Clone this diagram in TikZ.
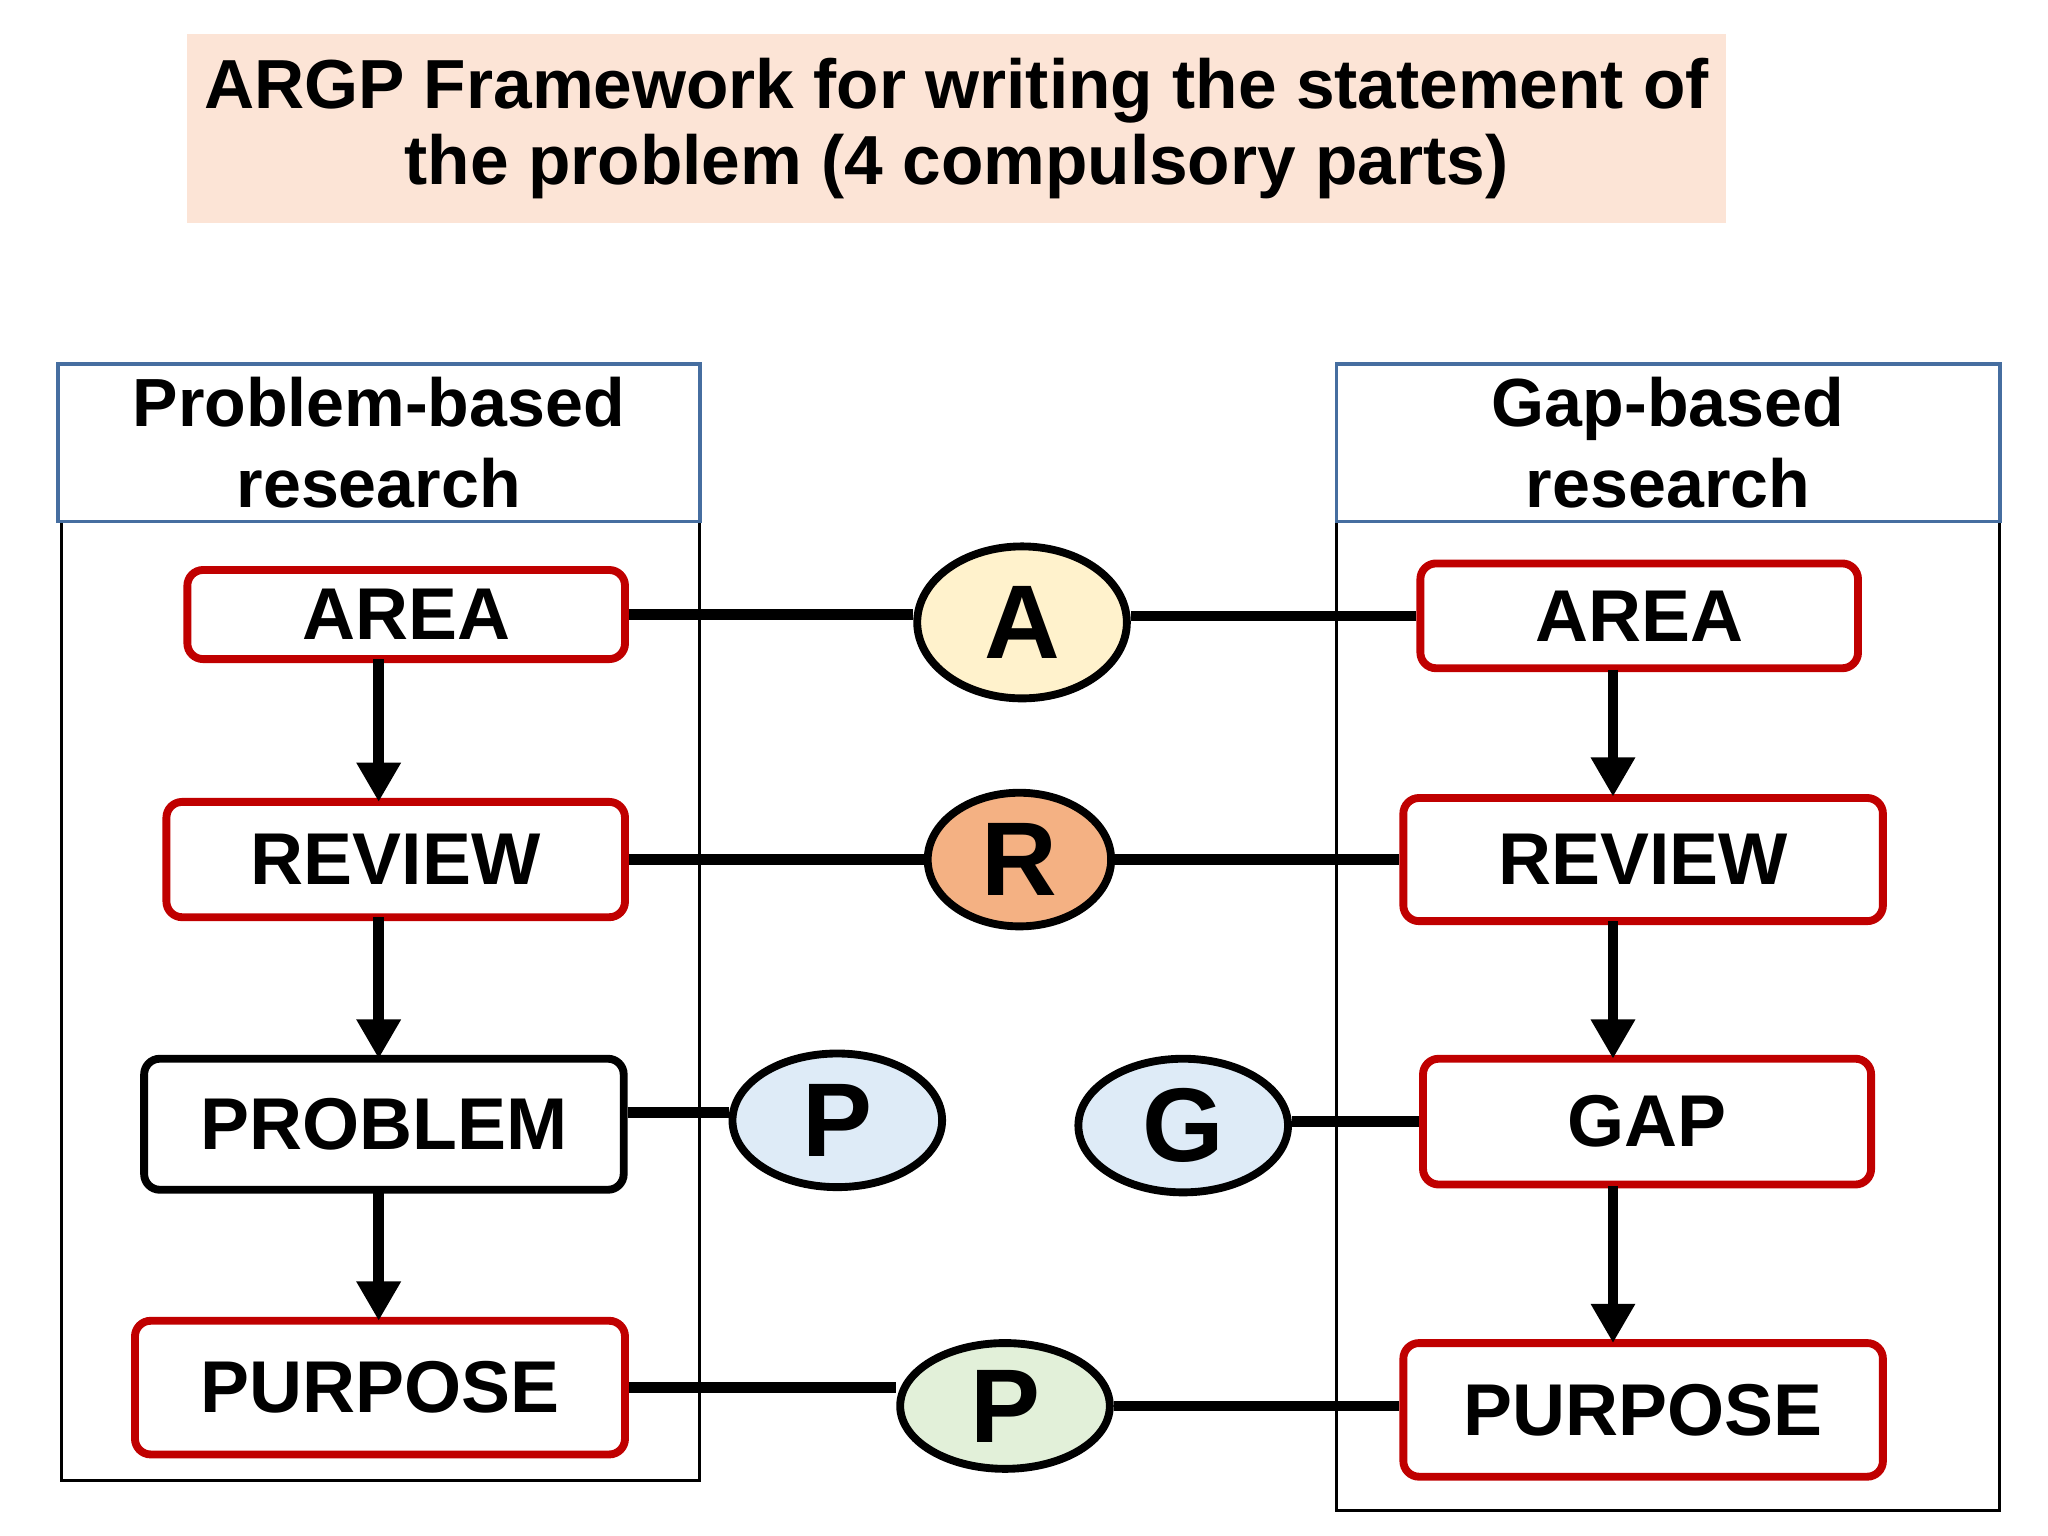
\documentclass[tikz,border=0pt]{standalone}
\usepackage{fontspec}
\setmainfont{Liberation Sans}
\usetikzlibrary{arrows.meta,shapes.geometric}
\definecolor{peach}{RGB}{252,228,214}
\definecolor{hdrblue}{RGB}{70,110,160}
\definecolor{dred}{RGB}{192,0,0}
\definecolor{cA}{RGB}{255,242,204}
\definecolor{cR}{RGB}{244,177,131}
\definecolor{cB}{RGB}{222,235,247}
\definecolor{cG}{RGB}{226,240,217}
\tikzset{
  stepbox/.style={draw=dred,line width=3pt,rounded corners=6pt,fill=white,font=\bfseries\fontsize{28}{32}\selectfont,inner sep=0pt},
  blackbox/.style={stepbox,draw=black},
  letter/.style={ellipse,draw=black,line width=3pt,inner sep=0pt,font=\bfseries\fontsize{40}{42}\selectfont},
  link/.style={line width=4pt},
  flow/.style={line width=4pt,-{Triangle[width=16pt,length=15pt]}},
  hdr/.style={draw=hdrblue,line width=1.5pt,fill=white,align=center,font=\bfseries\fontsize{26}{31}\selectfont,inner sep=0pt},
  outer/.style={draw=black,line width=1.2pt}
}
\begin{document}
\begin{tikzpicture}[x=0.5pt,y=-0.5pt]
\useasboundingbox (0,0) rectangle (1563,1172);
\fill[white] (0,0) rectangle (1563,1172);
% title
\node[fill=peach,minimum width=587pt,minimum height=72pt,align=center,font=\bfseries\fontsize{26.5}{29}\selectfont] (title) at (730,98) {ARGP Framework for writing the statement of\\the problem (4 compulsory parts)};
% outer boxes
\draw[outer] (47,278) rectangle (534,1130);
\draw[outer] (1020,278) rectangle (1526,1153);
\node[hdr,minimum width=245pt,minimum height=60pt] (lh) at (289,338) {Problem-based\\research};
\node[hdr,minimum width=253pt,minimum height=60pt] (rh) at (1273,338) {Gap-based\\research};
% left boxes
\node[stepbox,minimum width=167pt,minimum height=34pt] (la) at (310,469) {AREA};
\node[stepbox,minimum width=175pt,minimum height=44pt] (lr) at (302,656) {REVIEW};
\node[blackbox,minimum width=183pt,minimum height=50pt] (lp) at (293,858) {PROBLEM};
\node[stepbox,minimum width=187pt,minimum height=51pt] (lu) at (290,1059) {PURPOSE};
% right boxes
\node[stepbox,minimum width=167pt,minimum height=40pt] (ra) at (1251,470) {AREA};
\node[stepbox,minimum width=183pt,minimum height=47pt] (rr) at (1254,656) {REVIEW};
\node[stepbox,minimum width=171pt,minimum height=48pt] (rg) at (1257,856) {GAP};
\node[stepbox,minimum width=183pt,minimum height=51pt] (ru) at (1254,1076) {PURPOSE};
% letters
\node[letter,fill=cA,minimum width=80pt,minimum height=58pt] (A) at (780,475) {A};
\node[letter,fill=cR,minimum width=70pt,minimum height=51pt] (R) at (778,656) {R};
\node[letter,fill=cB,minimum width=80pt,minimum height=51pt] (P1) at (639,855) {P};
\node[letter,fill=cB,minimum width=80pt,minimum height=51pt] (G) at (903,859) {G};
\node[letter,fill=cG,minimum width=80pt,minimum height=48pt] (P2) at (767,1073) {P};
\coordinate (lpe) at ([yshift=4.5pt]lp.east);
% links
\draw[link] (la.east) -- (A.west |- la.east);
\draw[link] (A.east |- ra.west) -- (ra.west);
\draw[link] (lr.east) -- (R.west);
\draw[link] (R.east) -- (rr.west);
\draw[link] (lpe) -- (P1.west |- lpe);
\draw[link] (G.east |- rg.west) -- (rg.west);
\draw[link] (lu.east) -- (P2.west |- lu.east);
\draw[link] (P2.east) -- (ru.west |- P2.east);
% flows
\draw[flow] (289,503) -- (289,612);
\draw[flow] (289,700) -- (289,808);
\draw[flow] (289,908) -- (289,1008);
\draw[flow] (1231,511) -- (1231,608);
\draw[flow] (1231,703) -- (1231,808);
\draw[flow] (1231,905) -- (1231,1025);
\end{tikzpicture}
\end{document}
